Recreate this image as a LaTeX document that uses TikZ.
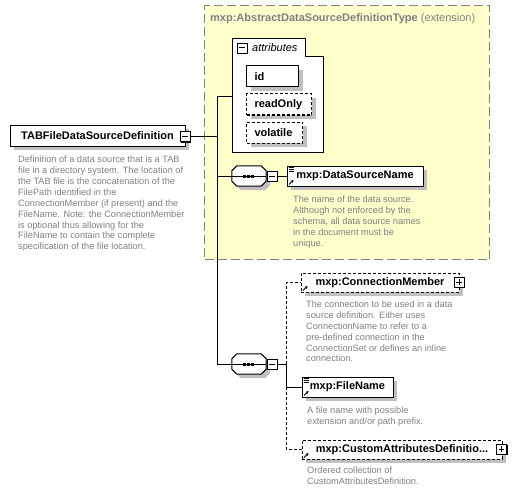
\documentclass[tikz,border=0pt]{standalone}
\usepackage{fontspec}
\setmainfont{Liberation Sans}
\usetikzlibrary{calc,shadows,arrows.meta}
\definecolor{extfill}{RGB}{255,255,204}
\definecolor{extborder}{RGB}{128,128,128}
\definecolor{shadowgray}{RGB}{192,192,192}
\definecolor{descgray}{RGB}{128,128,128}
% octagon (sequence compositor) drawn over an invisible named node
\newcommand\seqoct[3]{\path[#3] ($(#1.north west)+(5+#2,#2)$) -- ($(#1.north east)+(-5+#2,#2)$) -- ($(#1.north east)+(#2,5+#2)$) -- ($(#1.south east)+(#2,-5+#2)$) -- ($(#1.south east)+(-5+#2,#2)$) -- ($(#1.south west)+(5+#2,#2)$) -- ($(#1.south west)+(#2,-5+#2)$) -- ($(#1.north west)+(#2,5+#2)$) -- cycle;
  \draw[line width=1pt] (#1.west) -- (#1.east);
  \foreach \dx in {-6,-2,2} \fill ($(#1.center)+(\dx,-1.5)$) rectangle ++(3,3);}
\begin{document}
\begin{tikzpicture}[x=1pt,y=-1pt,
  lbl/.style={font=\fontsize{11}{13}\selectfont\bfseries},
  desc/.style={font=\fontsize{9.2}{10.9}\selectfont, text=descgray, align=left, anchor=north west, inner sep=0pt},
  shad/.style={general shadow={fill=shadowgray, shadow xshift=4pt, shadow yshift=-4pt}},
  elem/.style={draw=black, fill=white, line width=1pt, inner sep=0pt, minimum height=20pt, lbl, shad},
  optdash/.style={dash pattern=on 3pt off 2pt},
  attrbox/.style={elem, anchor=west, inner xsep=8pt, text width=#1, align=left, minimum height=21pt},
  btn/.style={draw=black, fill=white, line width=0.9pt, minimum size=10pt, inner sep=0pt, general shadow={fill=black, shadow xshift=1.3pt, shadow yshift=-1.3pt}},
  minusbtn/.style={btn, path picture={\draw[line width=1pt] ([xshift=2.2pt]path picture bounding box.west) -- ([xshift=-2.2pt]path picture bounding box.east);}},
  plusbtn/.style={btn, path picture={\draw[line width=1pt] ([xshift=2.2pt]path picture bounding box.west) -- ([xshift=-2.2pt]path picture bounding box.east) ([yshift=2.2pt]path picture bounding box.south) -- ([yshift=-2.2pt]path picture bounding box.north);}},
  seqbox/.style={minimum width=34pt, minimum height=20pt, inner sep=0pt},
  conn/.style={line width=1pt},
  optconn/.style={line width=1pt, dash pattern=on 3pt off 2pt},
  icon/.style={-{Stealth[length=3pt,width=3pt]}, line width=0.8pt},
  iconline/.style={line width=0.7pt},
]
\useasboundingbox (0,0) rectangle (532,492);

% extension area
\node[draw=extborder, fill=extfill, line width=1.2pt, dash pattern=on 9pt off 4pt, minimum width=285pt, minimum height=254pt, anchor=north west, inner sep=0pt] (ext) at (204,5) {};
\node[anchor=base west, inner sep=0pt, font=\fontsize{11}{13}\selectfont, text=descgray] (title) at (210,22) {\textbf{mxp:AbstractDataSourceDefinitionType} (extension)};

% attributes group
\path[draw=black, fill=white, line width=1pt] (232,39) -- (305,39) -- (305,57) -- (323,57) -- (323,152) -- (232,152) -- cycle;
\coordinate (attrL) at (232,97);
\node[minusbtn] (attrbtn) at (242,48) {};
\node[anchor=west, inner sep=0pt, font=\fontsize{11}{13}\selectfont\itshape] (attrlbl) at (252,48) {attributes};
\node[attrbox=36pt] (id) at (246,76.5) {id};
\node[attrbox=49pt, optdash] (ro) at (246,104.5) {readOnly};
\node[attrbox=40pt, optdash] (vol) at (246,132.5) {volatile};

% main element
\node[elem, minimum width=175pt, minimum height=21pt] (main) at (97.5,135.5) {TABFileDataSourceDefinition};
\node[minusbtn] (mainbtn) at (185,136.5) {};
\node[desc] (maindesc) at (18,155.8) {Definition of a data source that is a TAB\\file in a directory system. The location of\\the TAB file is the concatenation of the\\FilePath identified in the\\ConnectionMember (if present) and the\\FileName. Note: the ConnectionMember\\is optional thus allowing for the\\FileName to contain the complete\\specification of the file location.};
\coordinate (sp) at (217,136.5);

% sequence 1
\node[seqbox] (s1) at (249,176) {};
\seqoct{s1}{4}{fill=shadowgray}
\seqoct{s1}{0}{draw=black, fill=white, line width=1pt}
\node[minusbtn] (s1btn) at (272,176) {};
\node[elem, minimum width=136pt] (dsn) at (355,176) {mxp:DataSourceName};
\foreach \d in {2,3.8,5.6} \draw[iconline] ($(dsn.north west)+(2,\d)$) -- ++(5,0);
\draw[icon] ($(dsn.south west)+(2.5,-2)$) -- ++(4.5,-4.5);
\node[desc] (dsndesc) at (293,195.6) {The name of the data source.\\Although not enforced by the\\schema, all data source names\\in the document must be\\unique.};

% sequence 2
\node[seqbox] (s2) at (249,364) {};
\seqoct{s2}{4}{fill=shadowgray}
\seqoct{s2}{0}{draw=black, fill=white, line width=1pt}
\node[minusbtn] (s2btn) at (272,364) {};
\coordinate (sp2) at (286,364);

\node[elem, optdash, minimum width=158pt, minimum height=19pt] (cm) at (380,282.5) {mxp:ConnectionMember};
\node[plusbtn] (cmbtn) at (459,282) {};
\draw[icon] ($(cm.south west)+(2.5,-2)$) -- ++(4.5,-4.5);
\node[desc] (cmdesc) at (306,300.6) {The connection to be used in a data\\source definition. Either uses\\ConnectionName to refer to a\\pre-defined connection in the\\ConnectionSet or defines an inline\\connection.};

\node[elem, minimum width=91pt] (fn) at (347.5,387) {mxp:FileName};
\foreach \d in {2,3.8,5.6} \draw[iconline] ($(fn.north west)+(2,\d)$) -- ++(5,0);
\draw[icon] ($(fn.south west)+(2.5,-2)$) -- ++(4.5,-4.5);
\node[desc] (fndesc) at (307,406.6) {A file name with possible\\extension and/or path prefix.};

\node[elem, optdash, minimum width=200pt, minimum height=19pt] (ca) at (402,449.5) {mxp:CustomAttributesDefinitio...};
\node[plusbtn] (cabtn) at (501.5,449) {};
\draw[icon] ($(ca.south west)+(2.5,-2)$) -- ++(4.5,-4.5);
\node[desc] (cadesc) at (307,466.6) {Ordered collection of\\CustomAttributesDefinition.};

% connectors
\draw[conn] (mainbtn.east) -- (sp);
\draw[conn] (attrL) -| (sp);
\draw[conn] (sp) |- (s1.west);
\draw[conn] (sp |- s1.west) |- (s2.west);
\draw[conn] (s1btn.east) -- (dsn.west);
\draw[conn] (s2btn.east) -- (sp2);
\draw[optconn] (sp2) |- (cm.west);
\draw[conn] (sp2) |- (fn.west);
\draw[optconn] (sp2 |- fn.west) |- (ca.west);
\end{tikzpicture}
\end{document}
